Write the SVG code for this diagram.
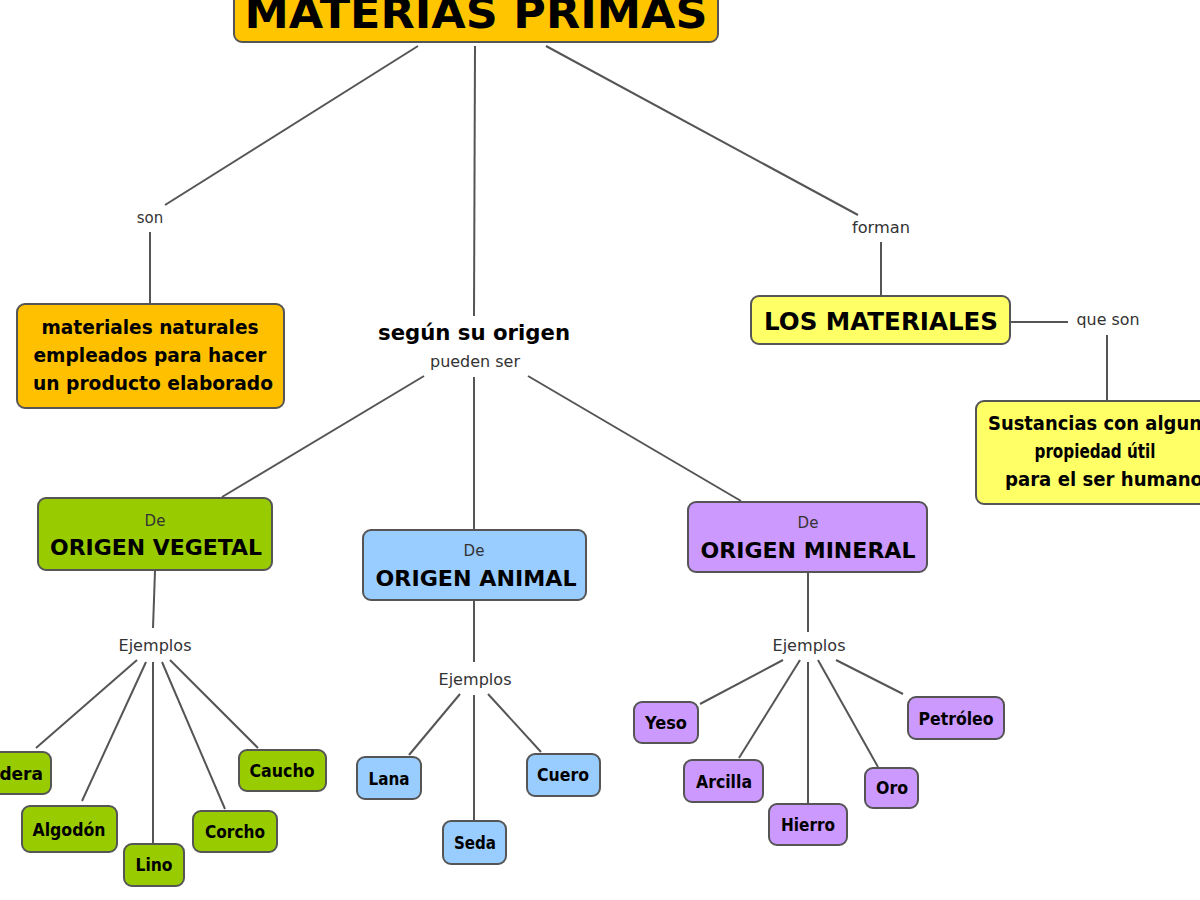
<svg xmlns="http://www.w3.org/2000/svg" width="1200" height="900" viewBox="0 0 1200 900">
<style>
.box{stroke:#555;stroke-width:2}
.gold{fill:#FFC600}
.yel{fill:#FFFF66}
.veg{fill:#99CC00}
.ani{fill:#99CCFF}
.min{fill:#CC99FF}
.t{font-family:"DejaVu Sans","Liberation Sans",sans-serif;font-weight:bold;fill:#000;text-anchor:middle}
.lk{font-family:"DejaVu Sans","Liberation Sans",sans-serif;fill:#333;text-anchor:middle;font-size:15px}
.conn line{stroke:#555;stroke-width:2}
</style>
<rect width="1200" height="900" fill="#fff"/>
<g class="conn">
<line x1="418" y1="46" x2="165" y2="205"/>
<line x1="150" y1="232" x2="150" y2="303"/>
<line x1="475" y1="46" x2="474" y2="316"/>
<line x1="546" y1="46" x2="858" y2="215"/>
<line x1="881" y1="242" x2="881" y2="295"/>
<line x1="1011" y1="322" x2="1068" y2="322"/>
<line x1="1107" y1="335" x2="1107" y2="400"/>
<line x1="424" y1="376" x2="222" y2="497"/>
<line x1="474" y1="377" x2="474" y2="529"/>
<line x1="528" y1="376" x2="741" y2="501"/>
<line x1="155" y1="571" x2="153" y2="628"/>
<line x1="137" y1="660" x2="36" y2="748"/>
<line x1="146" y1="662" x2="82" y2="801"/>
<line x1="153" y1="662" x2="153" y2="843"/>
<line x1="162" y1="662" x2="225" y2="809"/>
<line x1="170" y1="660" x2="258" y2="748"/>
<line x1="474" y1="601" x2="474" y2="662"/>
<line x1="460" y1="694" x2="409" y2="755"/>
<line x1="474" y1="695" x2="474" y2="820"/>
<line x1="488" y1="694" x2="541" y2="752"/>
<line x1="808" y1="573" x2="808" y2="632"/>
<line x1="783" y1="660" x2="700" y2="704"/>
<line x1="800" y1="660" x2="739" y2="758"/>
<line x1="808" y1="662" x2="808" y2="803"/>
<line x1="818" y1="660" x2="878" y2="767"/>
<line x1="836" y1="660" x2="903" y2="694"/>
</g>
<g id="materias-primas">
<rect class="box gold" x="234" y="-12" width="484" height="54" rx="8"/>
<text class="t" x="476" y="28" font-size="42" textLength="463" lengthAdjust="spacingAndGlyphs">MATERIAS PRIMAS</text>
</g>
<g id="lbl-son"><text class="lk" x="150" y="223">son</text></g>
<g id="materiales-naturales">
<rect class="box" fill="#FFC000" x="17" y="304" width="267" height="104" rx="8"/>
<text class="t" font-size="20" x="150" y="334" textLength="217" lengthAdjust="spacingAndGlyphs">materiales naturales</text>
<text class="t" font-size="20" x="150" y="362" textLength="233" lengthAdjust="spacingAndGlyphs">empleados para hacer</text>
<text class="t" font-size="20" x="153" y="390" textLength="240" lengthAdjust="spacingAndGlyphs">un producto elaborado</text>
</g>
<g id="segun">
<text class="t" font-size="22" x="474" y="340" textLength="192" lengthAdjust="spacingAndGlyphs">según su origen</text>
<text class="lk" x="475" y="367" textLength="90" lengthAdjust="spacingAndGlyphs">pueden ser</text>
</g>
<g id="lbl-forman"><text class="lk" x="881" y="233" textLength="58" lengthAdjust="spacingAndGlyphs">forman</text></g>
<g id="los-materiales">
<rect class="box yel" x="751" y="296" width="259" height="48" rx="8"/>
<text class="t" font-size="24" x="881" y="330" textLength="234" lengthAdjust="spacingAndGlyphs">LOS MATERIALES</text>
</g>
<g id="lbl-que-son"><text class="lk" x="1108" y="325" textLength="63" lengthAdjust="spacingAndGlyphs">que son</text></g>
<g id="sustancias">
<rect class="box yel" x="976" y="401" width="250" height="103" rx="8"/>
<text class="t" font-size="20" x="1101" y="430" textLength="226" lengthAdjust="spacingAndGlyphs">Sustancias con alguna</text>
<text class="t" font-size="20" x="1095" y="458" textLength="121" lengthAdjust="spacingAndGlyphs">propiedad útil</text>
<text class="t" font-size="20" x="1104" y="486" textLength="198" lengthAdjust="spacingAndGlyphs">para el ser humano</text>
</g>
<g id="origen-vegetal">
<rect class="box veg" x="38" y="498" width="234" height="72" rx="8"/>
<text class="lk" x="155" y="526">De</text>
<text class="t" font-size="22" x="156" y="555" textLength="212" lengthAdjust="spacingAndGlyphs">ORIGEN VEGETAL</text>
</g>
<g id="origen-animal">
<rect class="box ani" x="363" y="530" width="223" height="70" rx="8"/>
<text class="lk" x="474" y="556">De</text>
<text class="t" font-size="22" x="476" y="586" textLength="201" lengthAdjust="spacingAndGlyphs">ORIGEN ANIMAL</text>
</g>
<g id="origen-mineral">
<rect class="box min" x="688" y="502" width="239" height="70" rx="8"/>
<text class="lk" x="808" y="528">De</text>
<text class="t" font-size="22" x="808" y="558" textLength="215" lengthAdjust="spacingAndGlyphs">ORIGEN MINERAL</text>
</g>
<g id="lbl-ejemplos-1"><text class="lk" x="155" y="651" font-size="16" textLength="73" lengthAdjust="spacingAndGlyphs">Ejemplos</text></g>
<g id="lbl-ejemplos-2"><text class="lk" x="475" y="685" font-size="16" textLength="73" lengthAdjust="spacingAndGlyphs">Ejemplos</text></g>
<g id="lbl-ejemplos-3"><text class="lk" x="809" y="651" font-size="16" textLength="73" lengthAdjust="spacingAndGlyphs">Ejemplos</text></g>
<g id="madera">
<rect class="box veg" x="-36" y="752" width="87" height="42" rx="8"/>
<text class="t" font-size="18" x="7" y="780" textLength="72" lengthAdjust="spacingAndGlyphs">Madera</text>
</g>
<g id="algodon">
<rect class="box veg" x="22" y="806" width="95" height="46" rx="8"/>
<text class="t" font-size="18" x="69" y="836" textLength="73" lengthAdjust="spacingAndGlyphs">Algodón</text>
</g>
<g id="lino">
<rect class="box veg" x="124" y="844" width="60" height="42" rx="8"/>
<text class="t" font-size="18" x="154" y="871" textLength="37" lengthAdjust="spacingAndGlyphs">Lino</text>
</g>
<g id="corcho">
<rect class="box veg" x="193" y="811" width="84" height="41" rx="8"/>
<text class="t" font-size="18" x="235" y="838" textLength="60" lengthAdjust="spacingAndGlyphs">Corcho</text>
</g>
<g id="caucho">
<rect class="box veg" x="239" y="750" width="87" height="41" rx="8"/>
<text class="t" font-size="18" x="282" y="777" textLength="65" lengthAdjust="spacingAndGlyphs">Caucho</text>
</g>
<g id="lana">
<rect class="box ani" x="357" y="757" width="64" height="42" rx="8"/>
<text class="t" font-size="18" x="389" y="785" textLength="41" lengthAdjust="spacingAndGlyphs">Lana</text>
</g>
<g id="seda">
<rect class="box ani" x="443" y="821" width="63" height="43" rx="8"/>
<text class="t" font-size="18" x="475" y="849" textLength="42" lengthAdjust="spacingAndGlyphs">Seda</text>
</g>
<g id="cuero">
<rect class="box ani" x="527" y="754" width="73" height="42" rx="8"/>
<text class="t" font-size="18" x="563" y="781" textLength="52" lengthAdjust="spacingAndGlyphs">Cuero</text>
</g>
<g id="yeso">
<rect class="box min" x="634" y="702" width="64" height="41" rx="8"/>
<text class="t" font-size="18" x="666" y="729" textLength="42" lengthAdjust="spacingAndGlyphs">Yeso</text>
</g>
<g id="arcilla">
<rect class="box min" x="684" y="760" width="79" height="42" rx="8"/>
<text class="t" font-size="18" x="724" y="788" textLength="56" lengthAdjust="spacingAndGlyphs">Arcilla</text>
</g>
<g id="hierro">
<rect class="box min" x="769" y="804" width="78" height="41" rx="8"/>
<text class="t" font-size="18" x="808" y="831" textLength="54" lengthAdjust="spacingAndGlyphs">Hierro</text>
</g>
<g id="oro">
<rect class="box min" x="865" y="768" width="53" height="40" rx="8"/>
<text class="t" font-size="18" x="892" y="794" textLength="32" lengthAdjust="spacingAndGlyphs">Oro</text>
</g>
<g id="petroleo">
<rect class="box min" x="908" y="697" width="96" height="42" rx="8"/>
<text class="t" font-size="18" x="956" y="725" textLength="75" lengthAdjust="spacingAndGlyphs">Petróleo</text>
</g>
</svg>
